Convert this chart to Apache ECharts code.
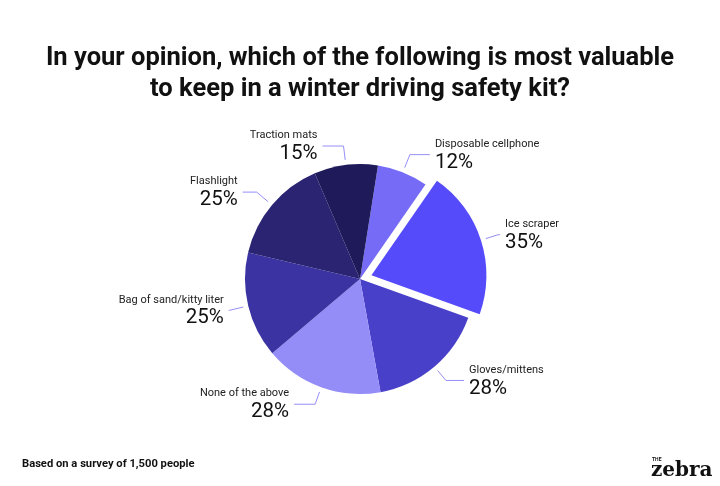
<!DOCTYPE html>
<html>
<head>
<meta charset="utf-8">
<script src="https://cdn.jsdelivr.net/npm/echarts@6/dist/echarts.min.js"></script>
<style>
  html, body { margin: 0; padding: 0; background: #fff; }
  #chart { width: 720px; height: 486px; }
</style>
</head>
<body>
<div id="chart"></div>
<script>
// survey answers, clockwise from the top
var categories = ['Disposable cellphone', 'Ice scraper', 'Gloves/mittens', 'None of the above',
                  'Bag of sand/kitty liter', 'Flashlight', 'Traction mats'];
var percents = [12, 35, 28, 28, 25, 25, 15];
var colors = ['#766bf7', '#554bfa', '#4940c9', '#948df8', '#3a33a1', '#2a2472', '#1f1a59'];
// label line lengths per slice [length, length2]
var lineLens = [[14, 20], [13, 2], [13, 18], [13, 21], [14, 1], [15, 14], [14, 21]];

var chart = echarts.init(document.getElementById('chart'));

var CENTER = [360, 279];

function buildData(withLabel) {
    return categories.map(function (name, i) {
        var d = {
            name: name,
            value: percents[i],
            selected: name === 'Ice scraper'
        };
        if (withLabel) {
            d.itemStyle = { color: 'rgba(0,0,0,0)' };
            d.labelLine = { length: lineLens[i][0], length2: lineLens[i][1] };
        } else {
            d.itemStyle = { color: colors[i] };
        }
        return d;
    });
}

var common = {
    type: 'pie',
    center: CENTER,
    startAngle: 81,
    clockwise: true,
    avoidLabelOverlap: false,
    selectedMode: 'single',
    selectedOffset: 12,
    emphasis: { disabled: true }
};

chart.setOption({
    backgroundColor: '#ffffff',
    animation: false,
    title: {
        text: 'In your opinion, which of the following is most valuable\nto keep in a winter driving safety kit?',
        left: 'center',
        top: 38,
        textStyle: {
            fontFamily: 'Roboto',
            fontWeight: 'bold',
            fontSize: 25.5,
            lineHeight: 31,
            color: '#111111'
        }
    },
    graphic: [
        {
            type: 'text', left: 22, top: 459,
            style: { text: 'Based on a survey of 1,500 people', font: 'bold 11.2px Roboto', fill: '#111' }
        },
        {
            type: 'text', left: 652, top: 457,
            style: { text: 'THE', font: 'bold 5px Roboto', fill: '#111' }
        },
        {
            type: 'text', left: 651, top: 461,
            style: { text: 'zebra', font: 'bold 20px "DejaVu Serif"', fill: '#111' }
        }
    ],
    series: [
        echarts.util.extend({
            radius: 115,
            label: { show: false },
            labelLine: { show: false },
            data: buildData(false)
        }, common),
        echarts.util.extend({
            radius: 120,
            silent: true,
            label: {
                show: true,
                formatter: function (p) { return '{n|' + p.name + '}\n{p|' + p.value + '%}'; },
                distanceToLabelLine: 5,
                rich: {
                    n: { fontFamily: 'Roboto', fontSize: 11, color: '#222', lineHeight: 16 },
                    p: { fontFamily: 'Roboto', fontSize: 20.5, color: '#111', lineHeight: 21 }
                }
            },
            labelLine: {
                show: true,
                lineStyle: { color: '#958ff7', width: 1 }
            },
            data: buildData(true)
        }, common)
    ]
});
</script>
</body>
</html>
